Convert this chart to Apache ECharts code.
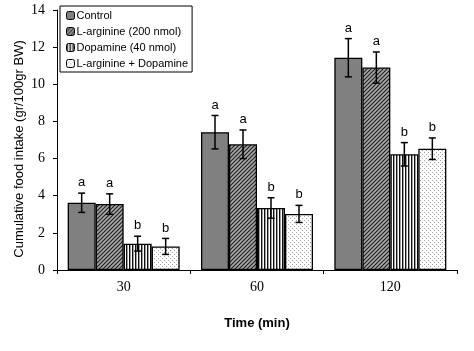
<!DOCTYPE html>
<html>
<head>
<meta charset="utf-8">
<script src="https://cdn.jsdelivr.net/npm/echarts@6/dist/echarts.min.js"></script>
<style>
html, body { margin: 0; padding: 0; background: #fff; }
#chart { width: 474px; height: 351px; }
</style>
</head>
<body>
<div id="chart"></div>
<script>
var times = ['30', '60', '120'];
var groups = ['Control', 'L-arginine (200 nmol)', 'Dopamine (40 nmol)', 'L-arginine + Dopamine'];
var control = [3.62, 7.42, 11.43];
var larginine = [3.55, 6.77, 10.9];
var dopamine = [1.42, 3.34, 6.23];
var combined = [1.27, 3.02, 6.53];
var controlErr = [0.52, 0.9, 1.03];
var larginineErr = [0.55, 0.77, 0.84];
var dopamineErr = [0.4, 0.55, 0.63];
var combinedErr = [0.43, 0.46, 0.58];
var controlSig = ['a', 'a', 'a'];
var larginineSig = ['a', 'a', 'a'];
var dopamineSig = ['b', 'b', 'b'];
var combinedSig = ['b', 'b', 'b'];

var values = [control, larginine, dopamine, combined];
var errors = [controlErr, larginineErr, dopamineErr, combinedErr];
var sigs = [controlSig, larginineSig, dopamineSig, combinedSig];
var gapPct = 0.16;
var sans = '"Liberation Sans", Arial, sans-serif';
var serif = '"Liberation Serif", "Times New Roman", serif';

function tile(w, h, draw) {
	var c = document.createElement('canvas');
	c.width = w; c.height = h;
	draw(c.getContext('2d'));
	return { image: c, repeat: 'repeat' };
}

var fills = [
	'#808080',
	tile(4, 4, function(ctx){
		ctx.fillStyle = '#a8a8a8';
		ctx.fillRect(0, 0, 4, 4);
		ctx.strokeStyle = '#222';
		ctx.lineWidth = 1.2;
		ctx.beginPath();
		ctx.moveTo(-1, 5); ctx.lineTo(5, -1);
		ctx.moveTo(-1, 1); ctx.lineTo(1, -1);
		ctx.moveTo(3, 5); ctx.lineTo(5, 3);
		ctx.stroke();
	}),
	tile(3, 3, function(ctx){
		ctx.fillStyle = '#fff';
		ctx.fillRect(0, 0, 3, 3);
		ctx.fillStyle = '#111';
		ctx.fillRect(0, 0, 1.4, 3);
	}),
	tile(4, 4, function(ctx){
		ctx.fillStyle = '#fff';
		ctx.fillRect(0, 0, 4, 4);
		ctx.fillStyle = '#a0a0a0';
		ctx.fillRect(0, 0, 1, 1);
		ctx.fillRect(2, 2, 1, 1);
	})
];

var series = [];
groups.forEach(function(name, i){
	series.push({
		name: name,
		type: 'bar',
		data: values[i],
		barGap: 0,
		barCategoryGap: (gapPct * 100) + '%',
		itemStyle: { color: fills[i], borderColor: '#000', borderWidth: 1.3 },
		emphasis: { disabled: true }
	});
});

var errData = [];
groups.forEach(function(name, i){
	times.forEach(function(t, j){
		errData.push([j, values[i][j], errors[i][j], i]);
	});
});

series.push({
	type: 'custom',
	name: 'err',
	data: errData,
	z: 10,
	clip: false,
	renderItem: function(params, api){
		var cat = api.value(0), val = api.value(1), err = api.value(2), s = api.value(3);
		var band = api.size([1, 0])[0];
		var bw = band * (1 - gapPct) / 4;
		var dx = -band * (1 - gapPct) / 2 + bw * (s + 0.5);
		var top = api.coord([cat, val + err]);
		var bot = api.coord([cat, val - err]);
		var x = top[0] + dx;
		var cap = 3.5;
		var st = { stroke: '#000', lineWidth: 1.5 };
		return {
			type: 'group',
			children: [
				{ type: 'line', shape: { x1: x, y1: top[1], x2: x, y2: bot[1] }, style: st },
				{ type: 'line', shape: { x1: x - cap, y1: top[1], x2: x + cap, y2: top[1] }, style: st },
				{ type: 'line', shape: { x1: x - cap, y1: bot[1], x2: x + cap, y2: bot[1] }, style: st },
				{ type: 'text', x: x, y: top[1] - 4, style: {
					text: sigs[s][cat], fill: '#000', font: '13px ' + sans,
					align: 'center', verticalAlign: 'bottom'
				} }
			]
		};
	}
});

var chart = echarts.init(document.getElementById('chart'));
chart.setOption({
	animation: false,
	backgroundColor: '#fff',
	textStyle: { fontFamily: serif },
	grid: { left: 57, right: 17, top: 10, bottom: 81, containLabel: false },
	graphic: [{
		type: 'text',
		x: 19,
		y: 149,
		rotation: Math.PI / 2,
		style: {
			text: 'Cumulative food intake (gr/100gr BW)',
			font: '13px ' + sans,
			fill: '#000',
			align: 'center',
			verticalAlign: 'middle'
		}
	}],
	legend: {
		data: groups,
		orient: 'vertical',
		left: 60,
		top: 6,
		itemWidth: 8,
		itemHeight: 8,
		itemGap: 5,
		padding: [4, 4, 3, 6],
		borderColor: '#000',
		borderWidth: 1,
		backgroundColor: '#fff',
		selectedMode: false,
		textStyle: { fontFamily: sans, fontSize: 11, color: '#000', padding: [0, 0, 0, -3] },
		itemStyle: { borderColor: '#000', borderWidth: 1 }
	},
	xAxis: {
		type: 'category',
		data: times,
		name: 'Time (min)',
		nameLocation: 'middle',
		nameGap: 47,
		nameTextStyle: { fontFamily: sans, fontSize: 13, fontWeight: 'bold', color: '#000' },
		axisLine: { lineStyle: { color: '#000', width: 1 } },
		axisTick: { show: true, length: 4, alignWithLabel: false, lineStyle: { color: '#000' } },
		axisLabel: { margin: 10, fontFamily: serif, fontSize: 14, color: '#000' }
	},
	yAxis: {
		type: 'value',
		min: 0,
		max: 14,
		interval: 2,
		axisLine: { show: true, lineStyle: { color: '#000', width: 1 } },
		axisTick: { show: true, length: 4, lineStyle: { color: '#000' } },
		splitLine: { show: false },
		axisLabel: {
			margin: 12,
			color: '#000',
			formatter: '{v|{value}}',
			rich: { v: { fontFamily: serif, fontSize: 14, color: '#000' } }
		}
	},
	series: series
});
</script>
</body>
</html>
